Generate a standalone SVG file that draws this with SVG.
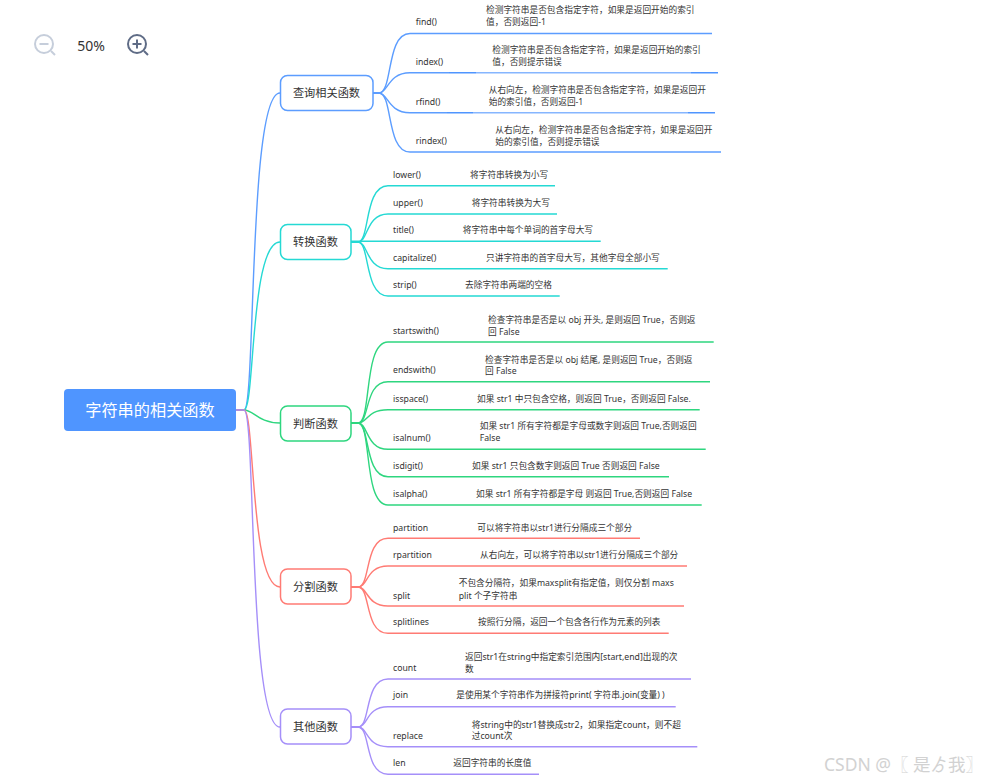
<svg xmlns="http://www.w3.org/2000/svg" width="993" height="782" viewBox="0 0 993 782">
<style>
text{font-family:"Noto Sans","Noto Sans CJK SC",sans-serif;fill:#333}
.l{font-size:8.7px}
.b{font-size:11.2px;text-anchor:middle}
.r{font-size:16.2px;text-anchor:middle;fill:#fff}
.c{fill:none;stroke-width:1.4}
.n{fill:#fff;stroke-width:1.5}
.blue{stroke:#5c9dff}.teal{stroke:#25d9d4}.green{stroke:#2ed67f}.red{stroke:#ff7b74}.purple{stroke:#a58ff9}
.hi{fill:none;stroke:#4f95ff;stroke-width:1.6}
.lt{stroke:#86b6ff}
</style>
<rect width="993" height="782" fill="#fff"/>
<g id="connectors">
<path class="c blue" d="M236 410H244C256 410 248 93 280 93"/>
<path class="c teal" d="M236 410H244C255 410 250 242 280 242"/>
<path class="c green" d="M236 410H244C254 410 258 423 280 423"/>
<path class="c red" d="M236 410H244C255 410 250 587 280 587"/>
<path class="c purple" d="M236 410H244C256 410 248 727 280 727"/>

<path class="c blue" d="M373 93H379C393 93 386 33.5 410 33.5H712"/>
<path class="c blue" d="M373 93H379C388 93 388 72.7 410 72.7H449"/>
<path class="c lt" d="M476 72.7H691"/>
<path class="hi" d="M449 72.7H476M691 72.7H718"/>
<path class="c blue" d="M373 93H379C388 93 388 112.7 410 112.7H447"/>
<path class="c lt" d="M473 112.7H688"/>
<path class="hi" d="M447 112.7H473M688 112.7H715"/>
<path class="c blue" d="M373 93H379C393 93 386 152 410 152H721"/>

<path class="c teal" d="M351 242H358C370 242 364 185.7 388 185.7H555"/>
<path class="c teal" d="M351 242H358C368 242 366 214 388 214H557"/>
<path class="c teal" d="M351 241.3H600.7"/>
<path class="c teal" d="M351 242H358C368 242 366 268.7 388 268.7H667.7"/>
<path class="c teal" d="M351 242H358C370 242 364 296 388 296H559.7"/>

<path class="c green" d="M351 423H358C372 423 363 342 388 342H713.7"/>
<path class="c green" d="M351 423H358C370 423 364 381.7 388 381.7H710"/>
<path class="c green" d="M351 423H358C368 423 366 409.7 388 409.7H699.7"/>
<path class="c green" d="M351 423H358C368 423 366 449.3 388 449.3H705.7"/>
<path class="c green" d="M351 423H358C370 423 364 476.7 388 476.7H669"/>
<path class="c green" d="M351 423H358C372 423 363 505 388 505H701.7"/>

<path class="c red" d="M351 587H358C371 587 364 538.3 388 538.3H640"/>
<path class="c red" d="M351 587H358C368 587 366 566 388 566H687"/>
<path class="c red" d="M351 587H358C368 587 366 606 388 606H684"/>
<path class="c red" d="M351 587H358C371 587 364 633.3 388 633.3H668.7"/>

<path class="c purple" d="M351 727H358C371 727 364 679 388 679H691"/>
<path class="c purple" d="M351 727H358C368 727 366 706.7 388 706.7H675.7"/>
<path class="c purple" d="M351 727H358C368 727 366 746.7 388 746.7H697.3"/>
<path class="c purple" d="M351 727H358C371 727 364 774.3 388 774.3H539"/>
</g>

<g id="zoom-controls">
<g fill="none" stroke="#c6cedb" stroke-width="2"><circle cx="44" cy="44" r="9"/><path d="M39.5 44H48.5M51 51L55 55"/></g>
<text x="91" y="51" style="font-size:14px;text-anchor:middle">50%</text>
<g fill="none" stroke="#5f6c86" stroke-width="2"><circle cx="137" cy="44" r="9"/><path d="M132.5 44H141.5M137 39.5V48.5M144 51L148 55"/></g>
</g>

<g id="root"><rect x="64" y="389" width="172" height="42" rx="4" fill="#4f95ff"/><text class="r" x="150" y="416">字符串的相关函数</text></g>

<g id="b-query"><rect class="n blue" x="280.5" y="75.5" width="92.5" height="35" rx="7"/><text class="b" x="326.5" y="97">查询相关函数</text></g>
<g id="b-convert"><rect class="n teal" x="280.5" y="224.5" width="70.5" height="35" rx="7"/><text class="b" x="315.5" y="246">转换函数</text></g>
<g id="b-judge"><rect class="n green" x="280.5" y="406" width="70.5" height="35" rx="7"/><text class="b" x="315.5" y="428">判断函数</text></g>
<g id="b-split"><rect class="n red" x="280.5" y="569" width="70.5" height="35" rx="7"/><text class="b" x="315.5" y="591">分割函数</text></g>
<g id="b-other"><rect class="n purple" x="280.5" y="709" width="70.5" height="35" rx="7"/><text class="b" x="315.5" y="731">其他函数</text></g>

<g id="find"><text class="l" x="415.7" y="25">find()</text><text class="l" x="486" y="13">检测字符串是否包含指定字符，如果是返回开始的索引<tspan x="486" y="25">值，否则返回-1</tspan></text></g>
<g id="index"><text class="l" x="415.7" y="65">index()</text><text class="l" x="492.3" y="53">检测字符串是否包含指定字符，如果是返回开始的索引<tspan x="492.3" y="65">值，否则提示错误</tspan></text></g>
<g id="rfind"><text class="l" x="415.7" y="105">rfind()</text><text class="l" x="488.7" y="93">从右向左，检测字符串是否包含指定字符，如果是返回开<tspan x="488.7" y="105">始的索引值，否则返回-1</tspan></text></g>
<g id="rindex"><text class="l" x="415.7" y="144">rindex()</text><text class="l" x="495.3" y="132.5">从右向左，检测字符串是否包含指定字符，如果是返回开<tspan x="495.3" y="144.5">始的索引值，否则提示错误</tspan></text></g>

<g id="lower"><text class="l" x="393" y="178">lower()</text><text class="l" x="470" y="178">将字符串转换为小写</text></g>
<g id="upper"><text class="l" x="393" y="206">upper()</text><text class="l" x="471.7" y="206">将字符串转换为大写</text></g>
<g id="title"><text class="l" x="393" y="233">title()</text><text class="l" x="462.7" y="233">将字符串中每个单词的首字母大写</text></g>
<g id="capitalize"><text class="l" x="393" y="261">capitalize()</text><text class="l" x="486" y="261">只讲字符串的首字母大写，其他字母全部小写</text></g>
<g id="strip"><text class="l" x="393" y="288">strip()</text><text class="l" x="465" y="288">去除字符串两端的空格</text></g>

<g id="startswith"><text class="l" x="393" y="334">startswith()</text><text class="l" x="488" y="322.5">检查字符串是否是以 obj 开头, 是则返回 True，否则返<tspan x="488" y="334.5">回 False</tspan></text></g>
<g id="endswith"><text class="l" x="393" y="373">endswith()</text><text class="l" x="485" y="362.5">检查字符串是否是以 obj 结尾, 是则返回 True，否则返<tspan x="485" y="374">回 False</tspan></text></g>
<g id="isspace"><text class="l" x="393" y="402">isspace()</text><text class="l" x="477" y="402">如果 str1 中只包含空格，则返回 True，否则返回 False.</text></g>
<g id="isalnum"><text class="l" x="393" y="441">isalnum()</text><text class="l" x="479.7" y="429">如果 str1 所有字符都是字母或数字则返回 True,否则返回<tspan x="479.7" y="441">False</tspan></text></g>
<g id="isdigit"><text class="l" x="393" y="468.5">isdigit()</text><text class="l" x="472" y="468.5">如果 str1 只包含数字则返回 True 否则返回 False</text></g>
<g id="isalpha"><text class="l" x="393" y="497">isalpha()</text><text class="l" x="476" y="497">如果 str1 所有字符都是字母 则返回 True,否则返回 False</text></g>

<g id="partition"><text class="l" x="393" y="530.5">partition</text><text class="l" x="477.3" y="530.5">可以将字符串以str1进行分隔成三个部分</text></g>
<g id="rpartition"><text class="l" x="393" y="558">rpartition</text><text class="l" x="480" y="558">从右向左，可以将字符串以str1进行分隔成三个部分</text></g>
<g id="split"><text class="l" x="393" y="598.5">split</text><text class="l" x="458.7" y="586">不包含分隔符，如果maxsplit有指定值，则仅分割 maxs<tspan x="458.7" y="598.5">plit 个子字符串</tspan></text></g>
<g id="splitlines"><text class="l" x="393" y="625">splitlines</text><text class="l" x="478" y="625">按照行分隔，返回一个包含各行作为元素的列表</text></g>

<g id="count"><text class="l" x="393" y="671">count</text><text class="l" x="465" y="659.5">返回str1在string中指定索引范围内[start,end]出现的次<tspan x="465" y="672">数</tspan></text></g>
<g id="join"><text class="l" x="393" y="698">join</text><text class="l" x="456.3" y="698">是使用某个字符串作为拼接符print( 字符串.join(变量) )</text></g>
<g id="replace"><text class="l" x="393" y="738.5">replace</text><text class="l" x="471.7" y="727.5">将string中的str1替换成str2，如果指定count，则不超<tspan x="471.7" y="739">过count次</tspan></text></g>
<g id="len"><text class="l" x="393" y="766">len</text><text class="l" x="453.3" y="766">返回字符串的长度值</text></g>

<text x="824" y="770.5" style="font-size:17.5px;fill:#d2d2d2">CSDN @〖 是ゟ我〗</text>
</svg>
